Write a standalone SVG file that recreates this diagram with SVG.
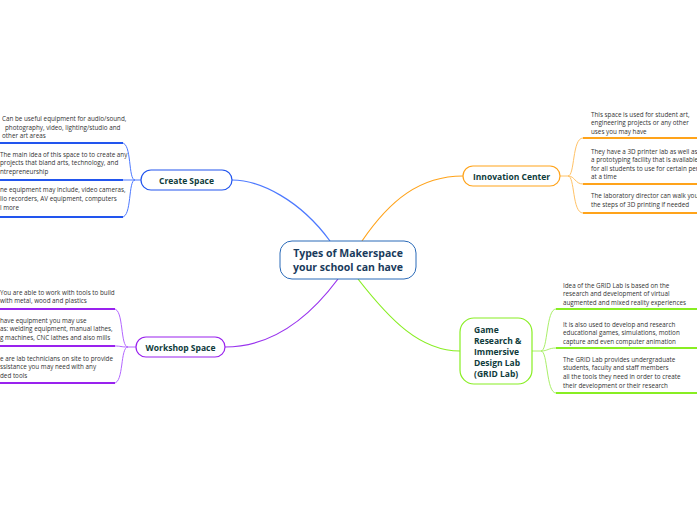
<svg xmlns="http://www.w3.org/2000/svg" width="697" height="520" viewBox="0 0 697 520">
<style>
.t{font-family:"Open Sans","Noto Sans",sans-serif;font-size:6.3px;fill:#333}
.n{font-family:"Open Sans","Noto Sans",sans-serif;font-size:8.5px;font-weight:bold;fill:#0e3b3b}
.c{font-family:"Open Sans","Noto Sans",sans-serif;font-size:10.5px;font-weight:bold;fill:#1a3b5c}
path{fill:none}
</style>
<rect width="697" height="520" fill="#fff"/>
<g id="connectors">
<path d="M330 241 C300 200 260 180 232 180" stroke="#4d79ff" stroke-width="1.2"/>
<path d="M338 279 C300 330 260 347 225 347" stroke="#9933ee" stroke-width="1.2"/>
<path d="M362 241 C390 200 420 176 463 176" stroke="#ffa31a" stroke-width="1.2"/>
<path d="M358 279 C390 320 420 351 460 351" stroke="#88ee22" stroke-width="1.2"/>
<g stroke="#4d79ff" stroke-width="1">
<path d="M141 180 H135 C128 180 132 143 122 143"/><path d="M135 180 H122"/><path d="M135 180 C128 180 132 217 122 217"/>
</g>
<g stroke="#b366ff" stroke-width="1">
<path d="M136 347 H128 C120 347 124 309 114 309"/><path d="M128 347 C120 347 122 346 114 346"/><path d="M128 347 C120 347 124 383 114 383"/>
</g>
<g stroke="#ffc266" stroke-width="1">
<path d="M560 176 H568 C575 176 572 138 583 138"/><path d="M568 176 C575 176 575 184 583 184"/><path d="M568 176 C575 176 572 213 583 213"/>
</g>
<g stroke="#aaf06a" stroke-width="1">
<path d="M532 351 H541 C548 351 546 309 556 309"/><path d="M541 351 C548 351 548 348 556 348"/><path d="M541 351 C548 351 546 393 556 393"/>
</g>
</g>
<g id="leaves-create">
<g stroke="#2255ee" stroke-width="2"><path d="M0 143 H123"/><path d="M0 180 H123"/><path d="M0 217 H123"/></g>
<text class="t"><tspan x="2" y="121">Can be useful equipment for audio/sound,</tspan><tspan x="5" y="130">photography, video, lighting/studio and</tspan><tspan x="2" y="138">other art areas</tspan></text>
<text class="t"><tspan x="0" y="157">The main idea of this space to to create any</tspan><tspan x="0" y="165">projects that bland arts, technology, and</tspan><tspan x="0" y="174">ntrepreneurship</tspan></text>
<text class="t"><tspan x="0" y="192">ne equipment may include, video cameras,</tspan><tspan x="0" y="201">lio recorders, AV equipment, computers</tspan><tspan x="0" y="210">l more</tspan></text>
</g>
<g id="leaves-workshop">
<g stroke="#9922ee" stroke-width="2"><path d="M0 309 H115"/><path d="M0 346 H115"/><path d="M0 383 H115"/></g>
<text class="t"><tspan x="0" y="295">You are able to work with tools to build</tspan><tspan x="0" y="303">with metal, wood and plastics</tspan></text>
<text class="t"><tspan x="0" y="323">have equipment you may use</tspan><tspan x="0" y="331">as: welding equipment, manual lathes,</tspan><tspan x="0" y="340">g machines, CNC lathes and also mills</tspan></text>
<text class="t"><tspan x="0" y="361">e are lab technicians on site to provide</tspan><tspan x="0" y="369">ssistance you may need with any</tspan><tspan x="0" y="378">ded tools</tspan></text>
</g>
<g id="leaves-innovation">
<g stroke="#ffa31a" stroke-width="2"><path d="M583 138 H697"/><path d="M583 184 H697"/><path d="M583 213 H697"/></g>
<text class="t"><tspan x="591" y="117">This space is used for student art,</tspan><tspan x="591" y="125">engineering projects or any other</tspan><tspan x="591" y="134">uses you may have</tspan></text>
<text class="t"><tspan x="591" y="154">They have a 3D printer lab as well as</tspan><tspan x="591" y="162">a prototyping facility that is available</tspan><tspan x="591" y="171">for all students to use for certain period</tspan><tspan x="591" y="179">at a time</tspan></text>
<text class="t"><tspan x="591" y="198">The laboratory director can walk you th</tspan><tspan x="591" y="207">the steps of 3D printing if needed</tspan></text>
</g>
<g id="leaves-grid">
<g stroke="#88ee22" stroke-width="2"><path d="M556 309 H697"/><path d="M556 348 H697"/><path d="M556 393 H697"/></g>
<text class="t"><tspan x="563" y="288">Idea of the GRID Lab is based on the</tspan><tspan x="563" y="296">research and development of virtual</tspan><tspan x="563" y="305">augmented and mixed reality experiences</tspan></text>
<text class="t"><tspan x="563" y="327">It is also used to develop and research</tspan><tspan x="563" y="335">educational games, simulations, motion</tspan><tspan x="563" y="344">capture and even computer animation</tspan></text>
<text class="t"><tspan x="563" y="362">The GRID Lab provides undergraduate</tspan><tspan x="563" y="370">students, faculty and staff members</tspan><tspan x="563" y="379">all the tools they need in order to create</tspan><tspan x="563" y="388">their development or their research</tspan></text>
</g>
<g id="central">
<rect x="280" y="241" width="136" height="38" rx="12" fill="#fff" stroke="#2a6ab8" stroke-width="1"/>
<text class="c" text-anchor="middle"><tspan x="348" y="257">Types of Makerspace</tspan><tspan x="348" y="271">your school can have</tspan></text>
</g>
<g id="create">
<rect x="141" y="170" width="91" height="20" rx="10" fill="#fff" stroke="#2255ee" stroke-width="1.2"/>
<text class="n" x="186.5" y="183.5" text-anchor="middle">Create Space</text>
</g>
<g id="workshop">
<rect x="136" y="337" width="89" height="20" rx="10" fill="#fff" stroke="#9922ee" stroke-width="1.2"/>
<text class="n" x="180.5" y="350.5" text-anchor="middle">Workshop Space</text>
</g>
<g id="innovation">
<rect x="463" y="166" width="97" height="20" rx="10" fill="#fff" stroke="#ffa31a" stroke-width="1.2"/>
<text class="n" x="511.5" y="179.5" text-anchor="middle">Innovation Center</text>
</g>
<g id="grid">
<rect x="460" y="318" width="72" height="66" rx="14" fill="#fff" stroke="#88ee22" stroke-width="1.2"/>
<text class="n"><tspan x="474" y="333">Game</tspan><tspan x="474" y="344">Research &amp;</tspan><tspan x="474" y="355">Immersive</tspan><tspan x="474" y="366">Design Lab</tspan><tspan x="474" y="377">(GRID Lab)</tspan></text>
</g>
</svg>
